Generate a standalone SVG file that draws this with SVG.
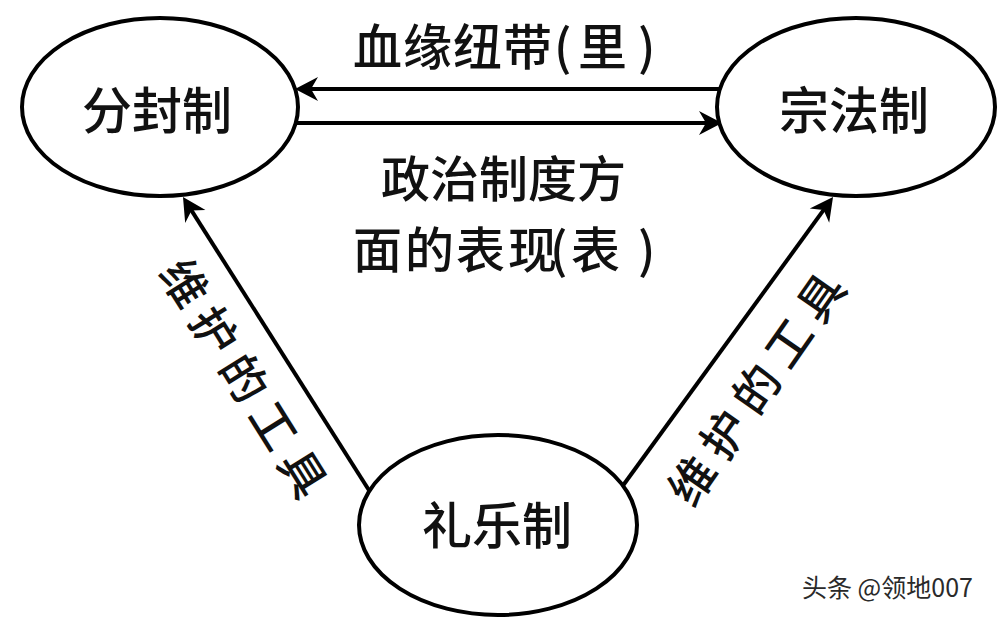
<svg xmlns="http://www.w3.org/2000/svg" width="1000" height="620" viewBox="0 0 1000 620">
<style>
.node ellipse{fill:#fff;stroke:#000;stroke-width:4}
.lbl{font-family:"Noto Sans CJK SC","Noto Sans CJK TC",sans-serif;font-weight:500;fill:#111;dominant-baseline:central}
.big{font-size:50px;text-anchor:middle}
.mid{font-size:49px}
.diag{font-size:46px;text-anchor:middle;letter-spacing:10px}
.conn line{stroke:#000;stroke-width:4;fill:none}
.wm{font-family:"Noto Sans CJK SC",sans-serif;font-size:25px;fill:#2a2a2a}
</style>
<defs>
<marker id="ah" markerUnits="userSpaceOnUse" markerWidth="28" markerHeight="28" viewBox="-25 -14 28 28" refX="-6" refY="0" orient="auto">
<path d="M0,0 L-23,-12 L-16,0 L-23,12 Z" fill="#000"/>
</marker>
</defs>
<rect width="1000" height="620" fill="#fff"/>
<g id="connectors" class="conn">
<line x1="722" y1="89" x2="301" y2="89" marker-end="url(#ah)"/>
<line x1="296" y1="123" x2="716" y2="123" marker-end="url(#ah)"/>
<line x1="372" y1="495" x2="186.2" y2="202.1" marker-end="url(#ah)"/>
<line x1="619" y1="491" x2="829.5" y2="201.9" marker-end="url(#ah)"/>
</g>
<g id="node-fenfeng" class="node">
<ellipse cx="160" cy="107" rx="138" ry="89"/>
<text class="lbl big" x="157" y="107">分封制</text>
</g>
<g id="node-zongfa" class="node">
<ellipse cx="856" cy="107" rx="139" ry="89"/>
<text class="lbl big" x="854" y="107">宗法制</text>
</g>
<g id="node-liyue" class="node">
<ellipse cx="498" cy="525" rx="139" ry="90"/>
<text class="lbl big" x="497" y="522">礼乐制</text>
</g>
<g id="labels">
<text class="lbl mid" x="353 403 453 503 554 578 638" y="43">血缘纽带(里)</text>
<text class="lbl mid" x="381 430 479 528 577" y="175">政治制度方</text>
<text class="lbl mid" x="353 405 456 508 550 571 638" y="246">面的表现(表)</text>
<text class="lbl diag" transform="translate(249,381) rotate(58)">维护的工具</text>
<text class="lbl diag" transform="translate(757,383) rotate(-55)">维护的工具</text>
</g>
<text class="wm" x="802" y="597">头条 @领地007</text>
</svg>
